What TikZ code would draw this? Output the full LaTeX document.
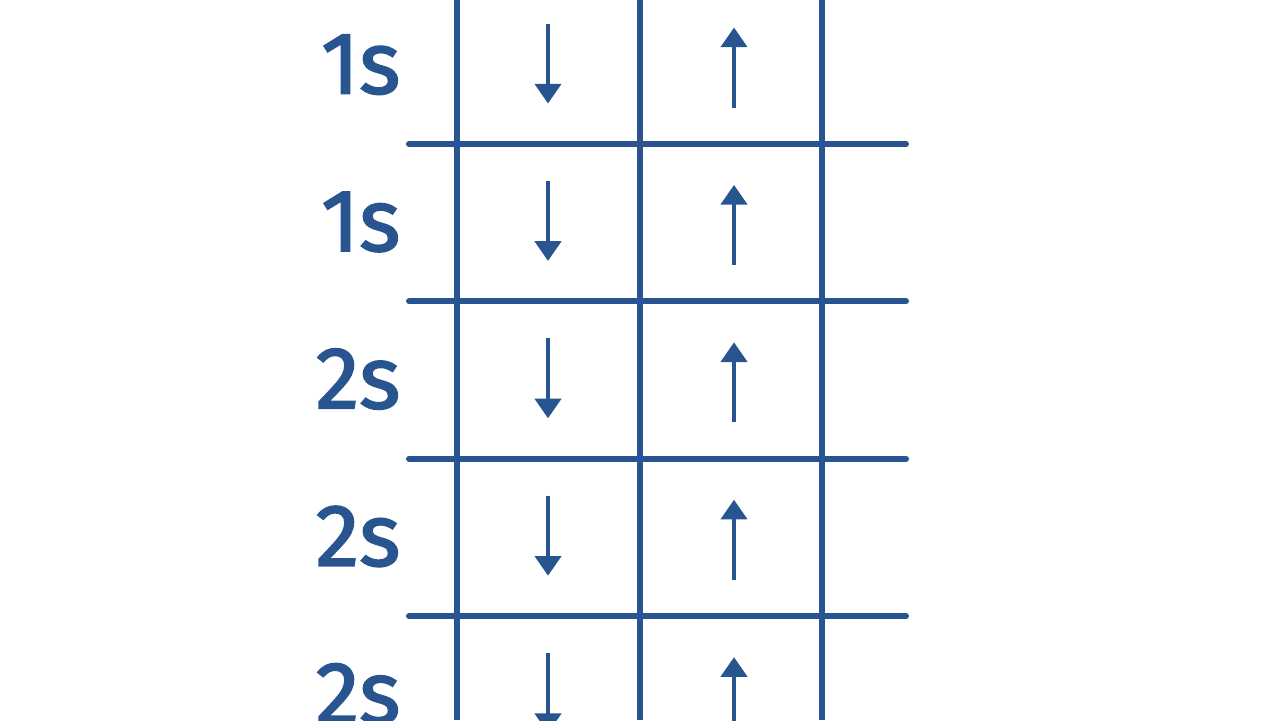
\documentclass[tikz,border=0pt]{standalone}
\usepackage{fontspec}
\newfontfamily\shellfont{Fira Sans}[UprightFeatures={FakeBold=2}]
\usetikzlibrary{arrows.meta}
\definecolor{orbblue}{RGB}{40,84,143}
\begin{document}
\begin{tikzpicture}[x=0.01cm, y=-0.01cm,
    gridline/.style={orbblue, line width=1.7pt, line cap=round},
    spin/.style={orbblue, line width=1.2pt, -{Triangle[width=7.4pt, length=5.6pt]}},
    shell/.style={orbblue, anchor=base east, inner sep=0pt, font=\shellfont\fontsize{25}{25}\selectfont}]
    \useasboundingbox (0,0) rectangle (1280,720);
    \clip (0,0) rectangle (1280,720);
    \pgfmathsetmacro{\rowh}{157.4};
    \pgfmathsetmacro{\top}{65.5};
    % columns of the box
    \foreach \cx in {457,640,822}
        \draw[gridline, line cap=butt] (\cx,0) -- (\cx,720);
    % rows: label, spin down, spin up
    \foreach \lbl [count=\i] in {1s,1s,2s,2s,2s} {
        \pgfmathsetmacro{\cy}{\top+(\i-1)*\rowh};
        \node[shell] (shell\i) at (401,\cy+28) {\lbl};
        \coordinate (dnA\i) at (548,\cy-42);
        \coordinate (dnB\i) at (548,\cy+38);
        \coordinate (upA\i) at (734,\cy+42);
        \coordinate (upB\i) at (734,\cy-38);
        \draw[spin] (dnA\i) -- (dnB\i);
        \draw[spin] (upA\i) -- (upB\i);
        \ifnum\i<5
            \draw[gridline] (409,\cy+78.5) -- (906,\cy+78.5);
        \fi
    }
\end{tikzpicture}
\end{document}
